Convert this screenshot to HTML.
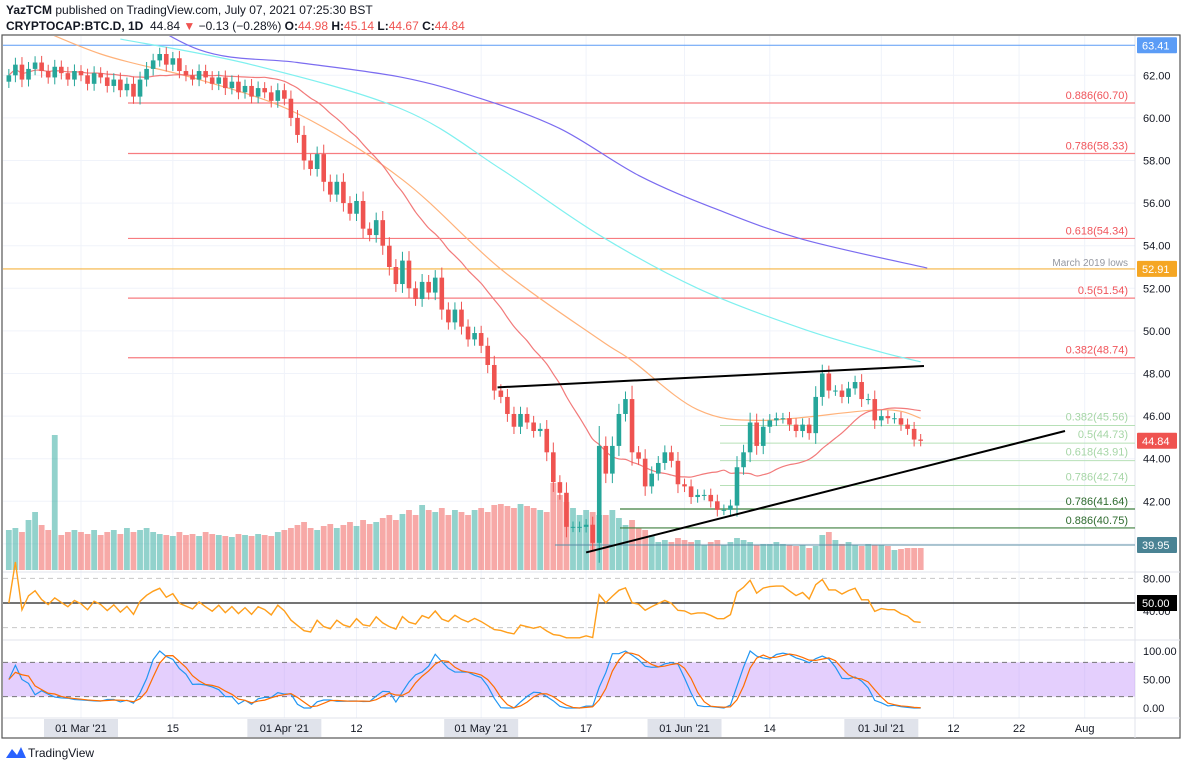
<!DOCTYPE html>
<html><head><meta charset="utf-8">
<style>
html,body{margin:0;padding:0;background:#fff;width:1186px;height:768px;overflow:hidden;font-family:"Liberation Sans",sans-serif;}
#hdr1{position:absolute;left:6px;top:3px;font-size:12px;color:#131722;}
#hdr2{position:absolute;left:6px;top:19px;font-size:12px;color:#131722;}
.r{color:#ef5350}
svg{position:absolute;left:0;top:0}
</style></head>
<body>
<div id="hdr1"><b>YazTCM</b> published on TradingView.com, July 07, 2021 07:25:30 BST</div>
<div id="hdr2"><b>CRYPTOCAP:BTC.D, 1D</b>&nbsp; 44.84 <span class="r">▼</span> −0.13 (−0.28%) <b>O:</b><span class="r">44.98</span> <b>H:</b><span class="r">45.14</span> <b>L:</b><span class="r">44.67</span> <b>C:</b><span class="r">44.84</span></div>
<svg id="chart" width="1186" height="768"></svg>
<script>
const closes=[62.0,62.5,61.8,62.3,62.6,62.2,61.9,62.4,62.1,61.8,62.2,
62.0,61.6,62.1,61.9,61.5,61.8,61.3,61.6,61.0,
61.8,62.3,62.7,63.0,62.5,62.8,62.2,
62.0,61.8,62.2,61.9,61.6,61.9,61.4,61.7,61.2,61.5,61.0,61.4,61.2,60.8,61.3,
60.9,60.0,59.2,58.0,57.6,58.3,57.0,56.4,57.0,56.0,55.5,56.1,54.8,54.5,55.2,
54.0,53.0,52.2,53.3,52.0,51.5,52.3,51.8,52.5,51.0,50.4,51.0,50.2,49.6,49.9,
49.3,48.4,47.2,46.9,
46.1,45.5,46.1,45.7,45.3,45.4,44.3,42.9,42.4,40.8,40.8,40.8,40.9,40.05,44.6,43.3,44.6,46.1,46.8,44.3,44.0,42.7,43.3,43.8,44.3,43.9,42.8,42.7,42.2,42.3,42.3,42.0,41.6,41.6,41.8,43.6,44.3,45.7,44.6,45.5,45.8,45.9,45.9,45.6,45.3,45.6,45.2,46.9,48.0,47.2,47.2,46.9,47.3,47.6,46.8,46.8,45.8,46.0,45.9,45.9,45.6,45.4,44.9,44.84];
const volumes=[40,42,38,50,58,45,40,135,35,38,40,
38,36,40,35,38,40,36,42,38,
40,42,38,36,35,34,38,
35,36,34,38,36,35,34,33,36,35,34,36,35,34,38,
40,42,45,48,42,40,44,46,42,45,48,44,50,46,48,
52,55,50,56,60,55,65,60,58,62,55,60,58,55,60,
62,58,65,66,
64,62,66,64,62,60,58,87,75,68,62,55,60,58,55,55,60,52,45,50,42,40,35,28,30,28,32,30,28,30,25,28,30,25,28,32,30,28,25,26,26,28,26,25,24,25,22,24,35,38,30,26,28,25,24,26,25,25,24,20,21,22,22,22];
const ma200Days=[14,29,44,60,72,84,96,108,121,140];
const ma200Vals=[65.9,63.2,62.6,61.9,60.9,59.5,57.3,55.7,54.3,52.95];
const ma100Days=[17,37,60,75,90,105,121,133,139];
const ma100Vals=[63.7,62.5,60.4,57.6,54.5,52.0,50.1,49.0,48.55];
const ma50Days=[0,14,29,44,60,75,90,95,105,115,133,139];
const ma50Vals=[64.8,63.0,61.8,60.2,57.1,52.9,49.6,48.6,46.3,45.8,46.3,45.9];
const priceTicks=[62,60,58,56,54,52,50,48,46,44,42,40];
const dateTickDays=[11,25,42,53,72,88,103,116,133,144,154,164];
const dateTickLabels=["01 Mar '21","15","01 Apr '21","12","01 May '21","17","01 Jun '21","14","01 Jul '21","12","22","Aug"];
const fibRed=[[0.886,60.70],[0.786,58.33],[0.618,54.34],[0.5,51.54],[0.382,48.74]];
const fibLight=[[0.382,45.56],[0.5,44.73],[0.618,43.91],[0.786,42.74]];
const fibDark=[[0.786,41.64],[0.886,40.75]];
const trendLines=[[74.5,47.35,139.5,48.35],[88,39.6,161,45.3]];

const NS="http://www.w3.org/2000/svg";
const svg=document.getElementById('chart');
function mk(t,a,p){const e=document.createElementNS(NS,t);for(const k in a)e.setAttribute(k,a[k]);(p||svg).appendChild(e);return e;}
const X=d=>81+(d-11)*6.56;
const Y=p=>458.7-(p-44)*21.3;
const VY=v=>570-v;
const RY=v=>603-(v-50)*0.82;
const SY=v=>708-v*0.57;
const R=1135;

const fr=mk('rect',{x:2,y:35,width:1178,height:703,fill:'none',stroke:'#555','stroke-width':1.2});

const gGrid=mk('g',{});
dateTickDays.forEach(d=>mk('line',{x1:X(d),x2:X(d),y1:36,y2:718,stroke:'#f0f3fa'},gGrid));
priceTicks.forEach(p=>mk('line',{x1:3,x2:R,y1:Y(p),y2:Y(p),stroke:'#f0f3fa'},gGrid));
[[572],[640],[718]].forEach(a=>mk('line',{x1:3,x2:1180,y1:a[0],y2:a[0],stroke:'#e0e3eb'},gGrid));
mk('line',{x1:R,x2:R,y1:36,y2:738,stroke:'#e0e3eb'});

const clip=mk('clipPath',{id:'mainclip'});mk('rect',{x:3,y:36,width:R-3,height:536},clip);
const gMain=mk('g',{'clip-path':'url(#mainclip)'});

const gVol=mk('g',{},gMain);
volumes.forEach((v,i)=>{const o=i?closes[i-1]:closes[0]-0.3;const up=closes[i]>=o;
 const b=mk('rect',{x:X(i)-2.9,y:VY(v),width:5.8,height:v,fill:up?'rgba(38,166,154,0.5)':'rgba(239,83,80,0.5)'},gVol);
 });

function hline(p,x1,col,w,name){const l=mk('line',{x1:x1,x2:R,y1:Y(p),y2:Y(p),stroke:col,'stroke-width':w},gMain);}
hline(63.41,3,'#5b9cf6',1,'level-63-41');
hline(52.91,3,'#f5b342',1.2,'march-2019-lows-line');
hline(39.95,555,'#5b8fa6',1,'level-39-95');
fibRed.forEach(f=>{hline(f[1],128,'#f77c80',1.2,'fib-red-'+f[0]);
 const t=mk('text',{x:1128,y:Y(f[1])-4,'text-anchor':'end','font-size':11,fill:'#f0545a'},gMain);t.textContent=f[0]+'('+f[1].toFixed(2)+')';
 });
fibLight.forEach(f=>{hline(f[1],720,'#b7e0b7',1,'fib-light-'+f[0]);
 const t=mk('text',{x:1128,y:Y(f[1])-5,'text-anchor':'end','font-size':11,fill:'#a6d6a6'},gMain);t.textContent=f[0]+'('+f[1].toFixed(2)+')';
 });
fibDark.forEach(f=>{hline(f[1],620,'#3f7f3f',1.2,'fib-dark-'+f[0]);
 const t=mk('text',{x:1128,y:Y(f[1])-4,'text-anchor':'end','font-size':11,fill:'#2e6b2e'},gMain);t.textContent=f[0]+'('+f[1].toFixed(2)+')';
 });
const ml=mk('text',{x:1128,y:Y(52.91)-3,'text-anchor':'end','font-size':10,fill:'#9598a1'},gMain);ml.textContent='March 2019 lows';


function smoothPath(pts){let d='M'+pts[0][0]+','+pts[0][1];
 for(let i=0;i<pts.length-1;i++){const p0=pts[Math.max(0,i-1)],p1=pts[i],p2=pts[i+1],p3=pts[Math.min(pts.length-1,i+2)];
  d+=' C'+(p1[0]+(p2[0]-p0[0])/6)+','+(p1[1]+(p2[1]-p0[1])/6)+' '+(p2[0]-(p3[0]-p1[0])/6)+','+(p2[1]-(p3[1]-p1[1])/6)+' '+p2[0]+','+p2[1];}
 return d;}
function pl(days,vals,col,name){const pts=days.map((d,i)=>[X(d),Y(vals[i])]);const e=mk('path',{d:smoothPath(pts),fill:'none',stroke:col,'stroke-width':1.2},gMain);}
pl(ma200Days,ma200Vals,'#7b6cf0','ma-200-line');
pl(ma100Days,ma100Vals,'#7ff0ef','ma-100-line');
pl(ma50Days,ma50Vals,'#ffb27a','ma-50-line');
const ma20=closes.map((c,i)=>{const s=closes.slice(Math.max(0,i-19),i+1);return s.reduce((a,b)=>a+b,0)/s.length;});
pl(ma20.map((v,i)=>i),ma20,'#f27a7a','ma-20-line');

const gC=mk('g',{},gMain);
closes.forEach((c,i)=>{const o=i?closes[i-1]:c-0.3;const up=c>=o;const col=up?'#26a69a':'#ef5350';
 const hi=Math.max(o,c)+0.25+Math.abs(c-o)*0.15, lo=Math.min(o,c)-0.25-Math.abs(c-o)*0.15;
 mk('line',{x1:X(i),x2:X(i),y1:Y(hi),y2:Y(lo),stroke:col,'stroke-width':1},gC);
 const b=mk('rect',{x:X(i)-2.3,y:Y(Math.max(o,c)),width:4.6,height:Math.max(1,Math.abs(c-o)*21.3),fill:col},gC);
 });

trendLines.forEach((t,i)=>{const l=mk('line',{x1:X(t[0]),y1:Y(t[1]),x2:X(t[2]),y2:Y(t[3]),stroke:'#000','stroke-width':2},gMain);
 });

priceTicks.forEach(p=>{const t=mk('text',{x:1143,y:Y(p)+4,'font-size':11,fill:'#131722'});t.textContent=p.toFixed(2);
 });
function box(y,txt,bg,name){const r=mk('rect',{x:1137,y:y-8,width:40,height:16,fill:bg,rx:1});
 const t=mk('text',{x:1142,y:y+4,'font-size':11,fill:'#fff'});t.textContent=txt;}
box(Y(63.41),'63.41','#5b9cf6','label-63-41');
box(Y(52.91),'52.91','#f5a623','label-52-91');
box(Y(44.84),'44.84','#ef5350','label-last-price');
box(Y(39.95),'39.95','#4a8394','label-39-95');

// RSI
const RSI_LEN=7;
const rsi=[];let ag=0,al=0;
closes.forEach((c,i)=>{if(i===0){rsi.push(50);return;}const ch=c-closes[i-1];const g=Math.max(ch,0),l=Math.max(-ch,0);
 const n=Math.min(i,RSI_LEN);ag=(ag*(n-1)+g)/n;al=(al*(n-1)+l)/n;rsi.push(al===0?100:100-100/(1+ag/al));});
[80,20].forEach(v=>mk('line',{x1:3,x2:R,y1:RY(v),y2:RY(v),stroke:'#c8c8c8','stroke-dasharray':'5,4'}));
mk('line',{x1:3,x2:R,y1:RY(50),y2:RY(50),stroke:'#222','stroke-width':1.2});
const rl=mk('polyline',{points:rsi.map((v,i)=>X(i)+','+RY(v)).join(' '),fill:'none',stroke:'#ff9f1c','stroke-width':1.4});

[[80,'80.00'],[40,'40.00']].forEach(a=>{const t=mk('text',{x:1143,y:RY(a[0])+4,'font-size':11,fill:'#131722'});t.textContent=a[1];});
const rb=mk('rect',{x:1137,y:RY(50)-8,width:40,height:16,fill:'#000'});
const rt=mk('text',{x:1142,y:RY(50)+4,'font-size':11,fill:'#fff'});rt.textContent='50.00';

// Stoch RSI
const rsi14=[];ag=0;al=0;
closes.forEach((c,i)=>{if(i===0){rsi14.push(50);return;}const ch=c-closes[i-1];const g=Math.max(ch,0),l=Math.max(-ch,0);
 const n=Math.min(i,14);ag=(ag*(n-1)+g)/n;al=(al*(n-1)+l)/n;rsi14.push(al===0?100:100-100/(1+ag/al));});
const st=rsi14.map((v,i)=>{const s=rsi14.slice(Math.max(0,i-13),i+1);const mn=Math.min(...s),mx=Math.max(...s);return mx-mn<1e-6?50:(v-mn)/(mx-mn)*100;});
const sma=(a,n)=>a.map((v,i)=>{const s=a.slice(Math.max(0,i-n+1),i+1);return s.reduce((x,y)=>x+y,0)/s.length;});
const K=sma(st,3),D=sma(K,3);
const band=mk('rect',{x:3,y:SY(80),width:R-3,height:SY(20)-SY(80),fill:'rgba(190,140,250,0.42)'});

[80,20].forEach(v=>mk('line',{x1:3,x2:R,y1:SY(v),y2:SY(v),stroke:'#777','stroke-dasharray':'5,4'}));
const kl=mk('polyline',{points:K.map((v,i)=>X(i)+','+SY(v)).join(' '),fill:'none',stroke:'#2196f3','stroke-width':1.2});

const dl=mk('polyline',{points:D.map((v,i)=>X(i)+','+SY(v)).join(' '),fill:'none',stroke:'#ff6d00','stroke-width':1.2});

[[100,'100.00'],[50,'50.00'],[0,'0.00']].forEach(a=>{const t=mk('text',{x:1143,y:SY(a[0])+4,'font-size':11,fill:'#131722'});t.textContent=a[1];});

dateTickDays.forEach((d,i)=>{const lab=dateTickLabels[i];const x=X(d);
 if(lab.length>3){const w=lab.length*6.2+12;mk('rect',{x:x-w/2,y:719,width:w,height:18,fill:'#e0e3eb'});}
 const t=mk('text',{x:x,y:732,'text-anchor':'middle','font-size':11,fill:'#131722'});t.textContent=lab;
 });

const lg=mk('g',{});
mk('path',{d:'M6 758 L12 749 L17 755 L21 747 L26 758 Z',fill:'#2962ff'},lg);
const lt=mk('text',{x:28,y:757,'font-size':12,fill:'#131722'},lg);lt.textContent='TradingView';
</script>
</body></html>
